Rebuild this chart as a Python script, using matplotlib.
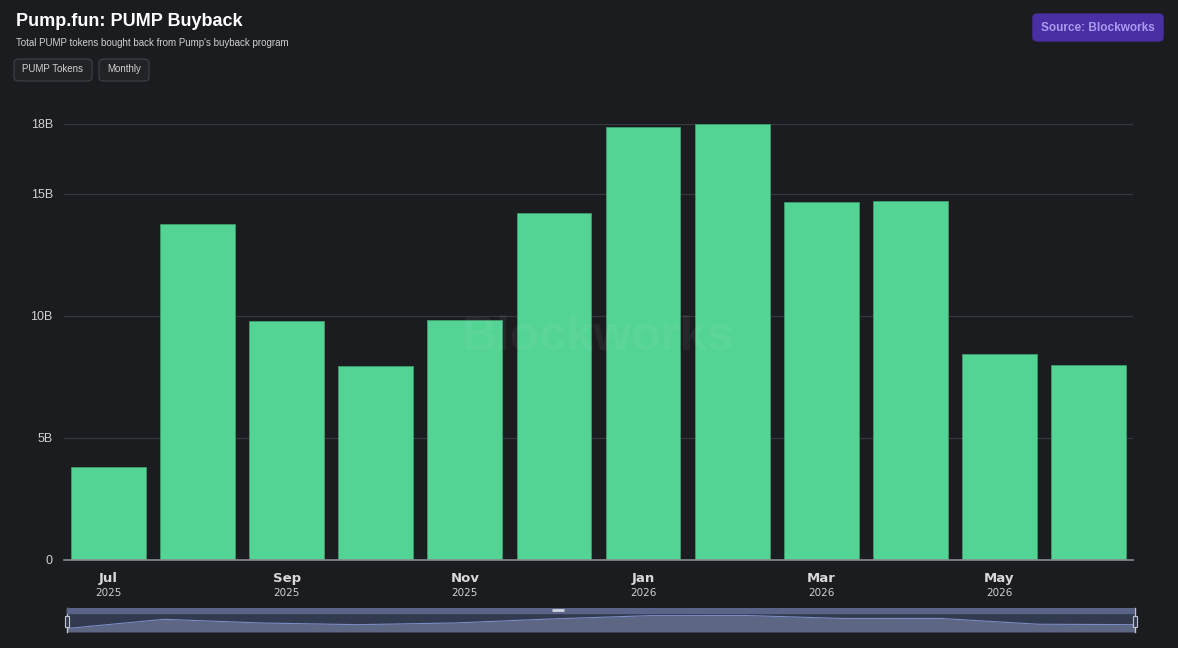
import matplotlib.pyplot as plt
from matplotlib.patches import FancyBboxPatch, Rectangle

months = ["Jul", "Aug", "Sep", "Oct", "Nov", "Dec", "Jan", "Feb", "Mar", "Apr", "May", "Jun"]
years = ["2025"] * 6 + ["2026"] * 6
buyback_b = [3.81, 13.75, 9.78, 7.94, 9.82, 14.20, 17.72, 17.85, 14.65, 14.69, 8.43, 7.98]
y_ticks = [0, 5, 10, 15, 17.85]
y_tick_labels = ["0", "5B", "10B", "15B", "18B"]

W, H = 1178, 648
bg = "#1b1c20"
bar_color = "#53d394"
plt.rcParams['font.family'] = ['Liberation Sans', 'DejaVu Sans']

fig = plt.figure(figsize=(W / 100, H / 100), dpi=100, facecolor=bg)


def px(x, y):
    return x / W, 1 - y / H


# main axes
ax = fig.add_axes([64 / W, 1 - 560 / H, (1133 - 64) / W, (560 - 124) / H])
ax.set_facecolor(bg)
x = list(range(len(months)))
ax.bar(x, buyback_b, width=0.84, color=bar_color, edgecolor="#3f9c70", linewidth=0.6, zorder=2)
ax.set_xlim(-0.5, len(months) - 0.5)
ax.set_ylim(0, max(buyback_b))
ax.set_yticks(y_ticks)
ax.set_yticklabels(y_tick_labels)
ax.tick_params(axis='y', length=0, pad=8, labelcolor="#d0d0d0", labelsize=9)
ax.grid(axis='y', color="#37383d", linewidth=0.9, zorder=0)
ax.set_axisbelow(True)
for s in ["top", "right", "left"]:
    ax.spines[s].set_visible(False)
ax.spines["bottom"].set_color("#8a8b90")
ax.spines["bottom"].set_linewidth(1.2)
ax.set_xticks([])
for i in range(0, len(months), 2):
    ax.text(i, -0.75, months[i], ha='center', va='center', color="#d8d8d8",
            fontsize=9.5, fontweight='bold', family=['DejaVu Sans'])
    ax.text(i, -1.35, years[i], ha='center', va='center', color="#d0d0d0",
            fontsize=7.5, family=['DejaVu Sans'])

# watermark
ax.text(5.5, 9.1, "Blockworks", ha='center', va='center', fontsize=35,
        fontweight='bold', color="#ffffff", alpha=0.05, zorder=3)

# titles
fig.text(*px(16, 22), "Pump.fun: PUMP Buyback", fontsize=13, fontweight='bold',
         color="white", va='center')
fig.text(*px(16, 43), "Total PUMP tokens bought back from Pump's buyback program",
         fontsize=7, color="#d0d0d0", va='center')

# pill buttons
for label, x0, x1 in [("PUMP Tokens", 14, 92), ("Monthly", 99, 149)]:
    bx, by = px(x0, 81)
    fig.patches.append(FancyBboxPatch((bx, by), (x1 - x0) / W, 22 / H,
                                      boxstyle="round,pad=0,rounding_size=0.005",
                                      transform=fig.transFigure, facecolor="#222327",
                                      edgecolor="#3d3e43", linewidth=0.9))
    fig.text(*px((x0 + x1) / 2, 69), label, fontsize=7, color="#d0d0d0",
             ha='center', va='center')

# source badge
bx, by = px(1033, 41)
fig.patches.append(FancyBboxPatch((bx, by), 130 / W, 27 / H,
                                  boxstyle="round,pad=0,rounding_size=0.005",
                                  transform=fig.transFigure, facecolor="#4a2ea3",
                                  edgecolor="#4a2ea3"))
fig.text(*px(1098, 28), "Source: Blockworks", fontsize=8.5, fontweight='bold',
         color="#a99cf0", ha='center', va='center')

# navigator
nav = fig.add_axes([67 / W, 1 - 632 / H, (1135 - 67) / W, (632 - 608) / H])
nav.set_facecolor("#323a50")
nav.fill_between(x, 0, buyback_b, color="#5d6682", linewidth=0)
nav.plot(x, buyback_b, color="#7c8cc4", linewidth=0.8)
nav.set_xlim(0, len(months) - 1)
nav.set_ylim(0, 26)
nav.add_patch(Rectangle((0, 21), len(months) - 1, 5, color="#5a6488", zorder=3))
nav.plot([5.0, 5.12], [23.5, 23.5], color="#d0d4e0", linewidth=2, zorder=4,
         solid_capstyle='butt')
nav.set_xticks([])
nav.set_yticks([])
for s in nav.spines.values():
    s.set_visible(False)
for hx in [0, len(months) - 1]:
    nav.plot([hx, hx], [0, 26], color="#c0c4d0", linewidth=1.0, clip_on=False)
    nav.add_patch(Rectangle((hx - 0.02, 5), 0.04, 12, facecolor="#333a4f",
                            edgecolor="#c0c4d0", linewidth=0.8, clip_on=False, zorder=5))

fig.savefig("out.png", dpi=100, facecolor=bg)
